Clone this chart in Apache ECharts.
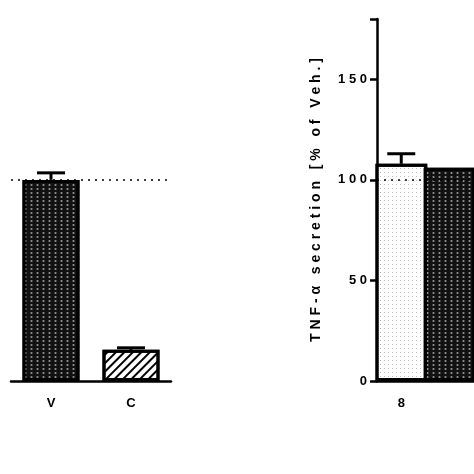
<!DOCTYPE html><html><head><meta charset="utf-8"><script src="https://cdn.jsdelivr.net/npm/echarts@6/dist/echarts.min.js"></script></head><body style="margin:0"><div id="c" style="width:474px;height:474px"></div><script>
const leftCats=['V','C'];
const leftVals=[100,15.5];
const leftErr=[3.5,1];
const rightCats=['8',''];
const rightVals=[108,106];
const rightErr=[5,0];
const yTicks=[0,50,100,150];
const chart=echarts.init(document.getElementById('c'));
const font={fontFamily:'Liberation Sans, Arial',fontWeight:'bold',color:'#000'};
function errSeries(xi,yi,vals,errs){
 return {type:'custom',xAxisIndex:xi,yAxisIndex:yi,z:1,
  data:vals.map((v,i)=>[i,v,v+errs[i]]),
  renderItem:(p,api)=>{const a=api.coord([api.value(0),api.value(1)]);const b=api.coord([api.value(0),api.value(2)]);
   if(api.value(2)-api.value(1)<=0) return null;
   return {type:'group',children:[{type:'line',shape:{x1:a[0],y1:a[1],x2:b[0],y2:b[1]},style:{stroke:'#000',lineWidth:3}},
   {type:'line',shape:{x1:b[0]-14,y1:b[1],x2:b[0]+14,y2:b[1]},style:{stroke:'#000',lineWidth:3}}]};}};
}
const ml={silent:true,symbol:'none',label:{show:false},lineStyle:{type:[2,5],color:'#000',width:1.5},data:[{yAxis:100}]};
chart.setOption({animation:false,
 grid:[{left:11,width:160,top:19,bottom:93},{left:377,width:154,top:19,bottom:93}],
 xAxis:[{gridIndex:0,type:'category',data:leftCats,axisLine:{lineStyle:{color:'#000',width:2.5}},axisTick:{alignWithLabel:true,length:7,lineStyle:{width:2.5,color:'#000'}},axisLabel:{...font,fontSize:13,margin:16}},
  {gridIndex:1,type:'category',data:rightCats,axisLine:{lineStyle:{color:'#000',width:2.5}},axisTick:{alignWithLabel:true,length:7,lineStyle:{width:2.5,color:'#000'}},axisLabel:{...font,fontSize:13,margin:16}}],
 yAxis:[{gridIndex:0,type:'value',min:0,max:180,show:false},
  {gridIndex:1,type:'value',min:0,max:180,interval:50,splitLine:{show:false},axisLine:{show:true,lineStyle:{color:'#000',width:2.5}},axisTick:{show:true,length:7,lineStyle:{width:2.5,color:'#000'}},
   axisLabel:{...font,fontSize:13,margin:10,formatter:v=>yTicks.includes(v)?String(v).split('').join(' '):''},
   name:'T N F - α   s e c r e t i o n   [ %   o f   V e h . ]',nameLocation:'middle',nameGap:54,nameTextStyle:{...font,fontSize:14}}],
 series:[
  {type:'bar',xAxisIndex:0,yAxisIndex:0,barWidth:57,z:2,data:[
    {value:leftVals[0],itemStyle:{color:'#111',borderColor:'#000',borderWidth:3,decal:{symbol:'rect',color:'#ddd',symbolSize:0.6,dashArrayX:[[3,3]],dashArrayY:[2,2]}}},
    {value:leftVals[1],itemStyle:{color:'#fff',borderColor:'#000',borderWidth:3,decal:{symbol:'rect',color:'#000',rotation:-Math.PI/4,dashArrayX:[[1,0]],dashArrayY:[2,4]}}}],markLine:ml},
  errSeries(0,0,leftVals,leftErr),
  {type:'bar',xAxisIndex:1,yAxisIndex:1,barWidth:52,z:2,data:[
    {value:rightVals[0],itemStyle:{color:'#fff',borderColor:'#000',borderWidth:3,decal:{symbol:'rect',color:'#000',symbolSize:0.5,dashArrayX:[[1,3]],dashArrayY:[1,3]}}},
    {value:rightVals[1],itemStyle:{color:'#111',borderColor:'#000',borderWidth:3,decal:{symbol:'rect',color:'#ddd',symbolSize:0.6,dashArrayX:[[3,3]],dashArrayY:[2,2]}}}],markLine:ml},
  errSeries(1,1,rightVals,rightErr)
 ]});
</script></body></html>
